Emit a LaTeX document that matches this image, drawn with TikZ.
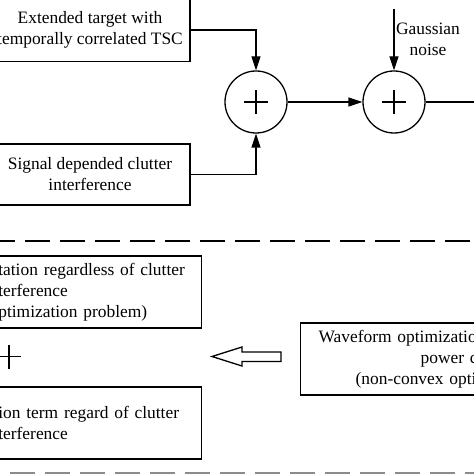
\documentclass[tikz,border=0pt]{standalone}
\usepackage{fontspec}
\setmainfont{Liberation Serif}
\usetikzlibrary{ arrows.meta, calc, positioning }
\tikzset{
>={Triangle[length=14bp,width=9bp]}, % filled arrow heads
x=1bp, y=-1bp, % one unit is one pixel, y runs downwards
every node/.style={font=\fontsize{17.4bp}{21bp}\selectfont},
box/.style={draw, line width=1.3bp, inner sep=4bp}, % the text blocks
sum/.style={circle, draw, line width=1.3bp, minimum size=62bp,
  path picture={\draw[line width=1.3bp]
    ([xshift=-12bp]path picture bounding box.center) -- ([xshift=12bp]path picture bounding box.center)
    ([yshift=-12bp]path picture bounding box.center) -- ([yshift=12bp]path picture bounding box.center);}},
link/.style={line width=1.3bp},
sepline/.style={line width=1.5bp, dash pattern=on 25bp off 10bp, dash phase=10bp},
sepgray/.style={line width=4bp, black!45, dash pattern=on 25bp off 10bp, dash phase=25bp},
}

\begin{document}
\begin{tikzpicture}
  \useasboundingbox (0,0) rectangle (474,474);
  \clip (0,0) rectangle (474,474);

  % signal model
  \node[box, minimum width=200bp, minimum height=63bp, align=center] (tg) at (90,30) {Extended target with\\temporally correlated TSC};
  \node[box, minimum width=200bp, minimum height=61bp, align=center] (cl) at (90,174.5) {Signal depended clutter\\interference};
  \node[sum] (s1) at (256,102) {};
  \node[sum] (s2) at (394,102) {};
  \node[align=center] (gn) at (428,39) {Gaussian\\noise};
  \coordinate (nz) at (394,9);
  \coordinate (out) at (480,102);

  \draw[link,->] (tg.east) -| (s1.north);
  \draw[link,->] (cl.east) -| (s1.south);
  \draw[link,->] (s1) -- (s2);
  \draw[link,->] (nz) -- (s2.north);
  \draw[link] (s2.east) -- (out);

  \draw[sepline] (0,241) -- (474,241);

  % optimization split
  \node[box, text width=199bp, align=left, minimum height=72bp, anchor=east] (fr) at (202,292) {tation regardless of clutter\\terference\\ptimization problem)};
  \node[box, text width=199bp, align=left, minimum height=72bp, anchor=east] (rg) at (202,423) {ion term regard of clutter\\terference};
  \coordinate (pl) at (9,356.5);
  \draw[link] ($(pl)+(-12,0)$) -- ($(pl)+(12,0)$) ($(pl)+(0,-12)$) -- ($(pl)+(0,12)$);

  \node[box, text width=190bp, align=left, minimum height=72bp, anchor=west] (wf) at (300,359) {\hspace*{14bp}Waveform optimizatio\\\hspace*{116bp}power c\\\hspace*{51bp}(non-convex opti};
  \draw[link, line join=miter] (212,356.5) -- (242,347) -- (242,352) -- (281,352) -- (281,361.5) -- (242,361.5) -- (242,366) -- cycle;

  \draw[sepgray] (0,473.5) -- (474,473.5);
\end{tikzpicture}
\end{document}
